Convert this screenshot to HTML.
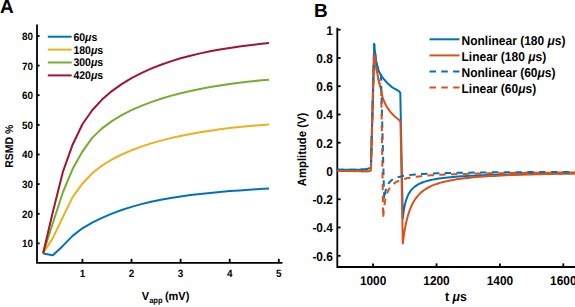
<!DOCTYPE html>
<html><head><meta charset="utf-8"><style>
html,body{margin:0;padding:0;background:#fff;width:575px;height:307px;overflow:hidden;}
svg{display:block;text-rendering:geometricPrecision;}
</style></head><body>
<svg width="575" height="307" viewBox="0 0 575 307">
<rect width="575" height="307" fill="#fff"/>
<text x="0" y="13.3" font-size="19" font-family="Liberation Sans, sans-serif" font-weight="bold" fill="#000">A</text>
<text x="314.0" y="17.2" font-size="19" font-family="Liberation Sans, sans-serif" font-weight="bold" fill="#000">B</text>
<g stroke="#000" stroke-width="1.8" fill="none" stroke-linecap="square">
<path d="M37,25.5 V262.8 H281.5"/>
<path stroke-linecap="butt" d="M37,243.4 H39.6"/>
<path stroke-linecap="butt" d="M37,213.8 H39.6"/>
<path stroke-linecap="butt" d="M37,184.1 H39.6"/>
<path stroke-linecap="butt" d="M37,154.5 H39.6"/>
<path stroke-linecap="butt" d="M37,124.9 H39.6"/>
<path stroke-linecap="butt" d="M37,95.2 H39.6"/>
<path stroke-linecap="butt" d="M37,65.6 H39.6"/>
<path stroke-linecap="butt" d="M37,36.0 H39.6"/>
<path stroke-linecap="butt" d="M82.4,262.8 V258.8"/>
<path stroke-linecap="butt" d="M131.5,262.8 V258.8"/>
<path stroke-linecap="butt" d="M180.6,262.8 V258.8"/>
<path stroke-linecap="butt" d="M229.7,262.8 V258.8"/>
<path stroke-linecap="butt" d="M278.8,262.8 V258.8"/>
</g>
<g font-family="Liberation Sans, sans-serif" font-weight="bold" font-size="9.9" fill="#000">
<text transform="translate(33.1,247.30) scale(1,1.07)" text-anchor="end">10</text>
<text transform="translate(33.1,217.67) scale(1,1.07)" text-anchor="end">20</text>
<text transform="translate(33.1,188.04) scale(1,1.07)" text-anchor="end">30</text>
<text transform="translate(33.1,158.41) scale(1,1.07)" text-anchor="end">40</text>
<text transform="translate(33.1,128.78) scale(1,1.07)" text-anchor="end">50</text>
<text transform="translate(33.1,99.15) scale(1,1.07)" text-anchor="end">60</text>
<text transform="translate(33.1,69.52) scale(1,1.07)" text-anchor="end">70</text>
<text transform="translate(33.1,39.89) scale(1,1.07)" text-anchor="end">80</text>
<text transform="translate(82.40,277.2) scale(1,1.07)" text-anchor="middle">1</text>
<text transform="translate(131.50,277.2) scale(1,1.07)" text-anchor="middle">2</text>
<text transform="translate(180.60,277.2) scale(1,1.07)" text-anchor="middle">3</text>
<text transform="translate(229.70,277.2) scale(1,1.07)" text-anchor="middle">4</text>
<text transform="translate(278.80,277.2) scale(1,1.07)" text-anchor="middle">5</text>
</g>
<text font-family="Liberation Sans, sans-serif" font-weight="bold" font-size="10.5" fill="#000" transform="translate(13.2,146.2) rotate(-90) scale(1,1.07)" text-anchor="middle">RSMD %</text>
<text font-family="Liberation Sans, sans-serif" font-weight="bold" font-size="11" fill="#000" transform="translate(141.8,299.6) scale(1,1.07)">V<tspan font-size="7.6" dy="3.6">app</tspan><tspan dy="-3.6" dx="-0.8"> (mV)</tspan></text>
<g fill="none" stroke-width="2" stroke-linejoin="round">
<polyline stroke="#0072BD" points="43.1,253.4 52.9,255.3 62.8,245.9 72.6,235.9 82.4,228.3 92.2,222.7 102.0,217.8 111.9,213.6 121.7,210.0 131.5,206.9 141.3,204.1 151.1,201.8 161.0,199.8 170.8,198.0 180.6,196.5 190.4,195.1 200.2,193.9 210.1,192.9 219.9,191.9 229.7,191.1 239.5,190.4 249.3,189.7 259.2,189.1 269.0,188.6"/>
<polyline stroke="#EDB120" points="43.1,253.4 52.9,237.9 62.8,217.3 72.6,197.1 82.4,183.7 92.2,173.2 102.0,165.6 111.9,159.5 121.7,154.5 131.5,150.3 141.3,146.6 151.1,143.4 161.0,140.6 170.8,138.1 180.6,135.9 190.4,133.9 200.2,132.2 210.1,130.7 219.9,129.3 229.7,128.1 239.5,127.0 249.3,126.1 259.2,125.3 269.0,124.5"/>
<polyline stroke="#77AC30" points="43.1,253.4 52.9,223.0 62.8,192.5 72.6,169.1 82.4,151.6 92.2,137.9 102.0,128.4 111.9,121.1 121.7,115.2 131.5,110.2 141.3,105.9 151.1,102.1 161.0,98.8 170.8,95.9 180.6,93.3 190.4,91.0 200.2,88.9 210.1,87.1 219.9,85.5 229.7,84.0 239.5,82.7 249.3,81.6 259.2,80.6 269.0,79.7"/>
<polyline stroke="#A2142F" points="43.1,253.4 52.9,211.8 62.8,172.2 72.6,144.7 82.4,124.3 92.2,110.2 102.0,99.6 111.9,91.1 121.7,84.1 131.5,78.2 141.3,73.1 151.1,68.6 161.0,64.8 170.8,61.4 180.6,58.3 190.4,55.7 200.2,53.4 210.1,51.3 219.9,49.5 229.7,47.9 239.5,46.5 249.3,45.2 259.2,44.1 269.0,43.1"/>
</g>
<g fill="none" stroke-width="2">
<path stroke="#0072BD" d="M47.8,36.7 H71.7"/>
<path stroke="#EDB120" d="M47.8,49.6 H71.7"/>
<path stroke="#77AC30" d="M47.8,62.5 H71.7"/>
<path stroke="#A2142F" d="M47.8,75.4 H71.7"/>
</g>
<g font-family="Liberation Sans, sans-serif" font-weight="bold" font-size="10.5" fill="#000">
<text transform="translate(73.4,40.60) scale(1,1.07)">60<tspan font-style="italic">μ</tspan>s</text>
<text transform="translate(73.4,53.50) scale(1,1.07)">180<tspan font-style="italic">μ</tspan>s</text>
<text transform="translate(73.4,66.40) scale(1,1.07)">300<tspan font-style="italic">μ</tspan>s</text>
<text transform="translate(73.4,79.30) scale(1,1.07)">420<tspan font-style="italic">μ</tspan>s</text>
</g>
<g stroke="#000" stroke-width="1.8" fill="none" stroke-linecap="square">
<path d="M337.3,28.6 V267.0 H576"/>
<path stroke-linecap="butt" d="M337.3,29.7 H340.6"/>
<path stroke-linecap="butt" d="M337.3,58.0 H340.6"/>
<path stroke-linecap="butt" d="M337.3,86.2 H340.6"/>
<path stroke-linecap="butt" d="M337.3,114.5 H340.6"/>
<path stroke-linecap="butt" d="M337.3,142.7 H340.6"/>
<path stroke-linecap="butt" d="M337.3,171.0 H340.6"/>
<path stroke-linecap="butt" d="M337.3,199.3 H340.6"/>
<path stroke-linecap="butt" d="M337.3,227.5 H340.6"/>
<path stroke-linecap="butt" d="M337.3,255.8 H340.6"/>
<path stroke-linecap="butt" d="M373.1,267.0 V263.4"/>
<path stroke-linecap="butt" d="M436.5,267.0 V263.4"/>
<path stroke-linecap="butt" d="M499.9,267.0 V263.4"/>
<path stroke-linecap="butt" d="M563.3,267.0 V263.4"/>
</g>
<g font-family="Liberation Sans, sans-serif" font-weight="bold" font-size="11.9" fill="#000">
<text transform="translate(332.9,34.60) scale(1,1.07)" text-anchor="end">1</text>
<text transform="translate(332.9,62.86) scale(1,1.07)" text-anchor="end">0.8</text>
<text transform="translate(332.9,91.12) scale(1,1.07)" text-anchor="end">0.6</text>
<text transform="translate(332.9,119.38) scale(1,1.07)" text-anchor="end">0.4</text>
<text transform="translate(332.9,147.64) scale(1,1.07)" text-anchor="end">0.2</text>
<text transform="translate(332.9,175.90) scale(1,1.07)" text-anchor="end">0</text>
<text transform="translate(332.9,204.16) scale(1,1.07)" text-anchor="end">-0.2</text>
<text transform="translate(332.9,232.42) scale(1,1.07)" text-anchor="end">-0.4</text>
<text transform="translate(332.9,260.68) scale(1,1.07)" text-anchor="end">-0.6</text>
<text transform="translate(373.10,284.8) scale(1,1.07)" text-anchor="middle">1000</text>
<text transform="translate(436.50,284.8) scale(1,1.07)" text-anchor="middle">1200</text>
<text transform="translate(499.90,284.8) scale(1,1.07)" text-anchor="middle">1400</text>
<text transform="translate(563.30,284.8) scale(1,1.07)" text-anchor="middle">1600</text>
</g>
<text font-family="Liberation Sans, sans-serif" font-weight="bold" font-size="11.3" fill="#000" transform="translate(306.3,149.5) rotate(-90) scale(1,1.07)" text-anchor="middle">Amplitude (V)</text>
<text font-family="Liberation Sans, sans-serif" font-weight="bold" font-size="12.3" fill="#000" transform="translate(445.0,301) scale(1,1.07)">t <tspan font-style="italic">μ</tspan>s</text>
<g fill="none" stroke-width="2" stroke-linejoin="round">
<path stroke="#0072BD" d="M337.50,169.80 L360.00,169.60 L366.00,169.20 L369.50,168.20 L370.90,168.00 L374.20,44.00 L375.00,52.00 L375.90,59.50 L377.00,65.00 L378.80,71.20 L381.00,75.30 L383.70,79.00 L387.50,83.20 L391.50,86.80 L395.00,89.00 L398.30,90.70 L400.30,92.70 L402.80,218.50 L402.80,218.47 L402.82,218.33 L402.85,218.03 L402.90,217.55 L402.98,216.87 L403.08,215.98 L403.21,214.90 L403.37,213.63 L403.56,212.22 L403.79,210.67 L404.06,209.03 L404.37,207.34 L404.71,205.61 L405.10,203.87 L405.54,202.16 L406.02,200.49 L406.54,198.87 L407.12,197.32 L407.74,195.83 L408.42,194.43 L409.15,193.10 L409.93,191.85 L410.77,190.68 L411.66,189.58 L412.61,188.56 L413.62,187.60 L414.70,186.70 L415.83,185.87 L417.02,185.09 L418.28,184.36 L419.60,183.69 L420.99,183.05 L422.45,182.46 L423.97,181.91 L425.56,181.39 L427.22,180.91 L428.95,180.46 L430.75,180.03 L432.63,179.63 L434.58,179.26 L436.60,178.91 L438.70,178.58 L440.88,178.27 L443.13,177.97 L445.46,177.70 L447.87,177.44 L450.36,177.19 L452.93,176.96 L455.58,176.74 L458.31,176.53 L461.13,176.33 L464.03,176.14 L467.02,175.96 L470.09,175.79 L473.25,175.63 L476.50,175.48 L479.83,175.33 L483.25,175.19 L486.77,175.06 L490.37,174.93 L494.07,174.81 L497.85,174.70 L501.73,174.59 L505.70,174.48 L509.77,174.38 L513.93,174.28 L518.19,174.19 L522.54,174.10 L526.99,174.02 L531.54,173.94 L536.19,173.86 L540.94,173.78 L545.78,173.71 L550.73,173.64 L555.78,173.57 L560.93,173.51 L566.18,173.45 L571.54,173.39 L577.00,173.33"/>
<path stroke="#D95319" d="M337.50,171.00 L369.00,171.20 L370.90,170.50 L374.20,52.70 L375.20,60.00 L376.50,69.00 L378.50,79.50 L380.80,88.80 L382.70,98.00 L386.00,105.50 L389.90,111.40 L394.00,115.80 L399.40,120.20 L400.50,122.00 L402.80,243.50 L402.80,243.47 L402.82,243.35 L402.85,243.09 L402.90,242.66 L402.98,242.04 L403.08,241.22 L403.21,240.19 L403.37,238.95 L403.56,237.51 L403.79,235.89 L404.06,234.09 L404.37,232.14 L404.71,230.06 L405.10,227.87 L405.54,225.61 L406.02,223.30 L406.54,220.97 L407.12,218.63 L407.74,216.31 L408.42,214.03 L409.15,211.80 L409.93,209.63 L410.77,207.53 L411.66,205.52 L412.61,203.59 L413.62,201.75 L414.70,200.00 L415.83,198.35 L417.02,196.78 L418.28,195.30 L419.60,193.91 L420.99,192.60 L422.45,191.37 L423.97,190.22 L425.56,189.13 L427.22,188.12 L428.95,187.17 L430.75,186.28 L432.63,185.44 L434.58,184.66 L436.60,183.93 L438.70,183.24 L440.88,182.60 L443.13,182.00 L445.46,181.43 L447.87,180.90 L450.36,180.41 L452.93,179.94 L455.58,179.50 L458.31,179.09 L461.13,178.70 L464.03,178.34 L467.02,178.00 L470.09,177.68 L473.25,177.37 L476.50,177.09 L479.83,176.82 L483.25,176.56 L486.77,176.32 L490.37,176.09 L494.07,175.88 L497.85,175.67 L501.73,175.48 L505.70,175.30 L509.77,175.12 L513.93,174.96 L518.19,174.80 L522.54,174.66 L526.99,174.51 L531.54,174.38 L536.19,174.25 L540.94,174.13 L545.78,174.02 L550.73,173.91 L555.78,173.80 L560.93,173.70 L566.18,173.61 L571.54,173.52 L577.00,173.43"/>
<path stroke="#0072BD" stroke-dasharray="6.5 5.3" d="M337.50,169.80 L360.00,169.60 L366.00,169.20 L369.50,168.20 L370.90,168.00 L374.20,44.00 L375.00,52.00 L375.90,59.50 L377.00,65.00 L378.80,71.20 L381.00,75.30 L384.20,199.50 L384.20,199.47 L384.22,199.31 L384.25,198.99 L384.31,198.48 L384.39,197.77 L384.51,196.87 L384.65,195.82 L384.83,194.64 L385.04,193.37 L385.30,192.06 L385.59,190.73 L385.93,189.43 L386.32,188.17 L386.75,186.96 L387.23,185.83 L387.76,184.77 L388.34,183.78 L388.98,182.87 L389.67,182.03 L390.42,181.27 L391.22,180.56 L392.09,179.92 L393.02,179.33 L394.01,178.79 L395.06,178.29 L396.18,177.84 L397.37,177.42 L398.62,177.04 L399.94,176.69 L401.33,176.36 L402.80,176.07 L404.33,175.79 L405.94,175.54 L407.63,175.30 L409.39,175.08 L411.23,174.88 L413.14,174.69 L415.14,174.51 L417.21,174.35 L419.37,174.20 L421.61,174.05 L423.93,173.92 L426.34,173.79 L428.83,173.68 L431.41,173.56 L434.08,173.46 L436.84,173.36 L439.68,173.27 L442.62,173.18 L445.64,173.10 L448.76,173.02 L451.97,172.95 L455.28,172.88 L458.68,172.81 L462.17,172.75 L465.77,172.69 L469.46,172.64 L473.24,172.58 L477.13,172.53 L481.12,172.48 L485.21,172.43 L489.40,172.39 L493.69,172.35 L498.09,172.31 L502.59,172.27 L507.20,172.23 L511.91,172.20 L516.73,172.16 L521.66,172.13 L526.69,172.10 L531.83,172.07 L537.09,172.04 L542.45,172.01 L547.93,171.99 L553.51,171.96 L559.21,171.94 L565.03,171.91 L570.96,171.89 L577.00,171.87"/>
<path stroke="#D95319" stroke-dasharray="6.5 5.3" d="M337.50,171.00 L369.00,171.20 L370.90,170.50 L374.20,52.70 L375.20,60.00 L376.50,69.00 L378.50,79.50 L380.80,88.80 L381.20,90.50 L383.20,218.00 L383.20,217.95 L383.22,217.71 L383.25,217.20 L383.31,216.39 L383.40,215.27 L383.51,213.85 L383.65,212.16 L383.83,210.27 L384.05,208.24 L384.30,206.12 L384.60,203.98 L384.94,201.85 L385.33,199.79 L385.76,197.82 L386.24,195.95 L386.78,194.19 L387.36,192.56 L388.00,191.05 L388.70,189.65 L389.45,188.37 L390.26,187.19 L391.13,186.11 L392.06,185.11 L393.06,184.21 L394.12,183.37 L395.24,182.61 L396.43,181.90 L397.69,181.26 L399.02,180.66 L400.42,180.12 L401.89,179.61 L403.44,179.14 L405.06,178.71 L406.75,178.31 L408.52,177.94 L410.37,177.60 L412.29,177.27 L414.30,176.98 L416.39,176.70 L418.55,176.44 L420.81,176.19 L423.14,175.97 L425.56,175.75 L428.07,175.55 L430.66,175.36 L433.34,175.19 L436.11,175.02 L438.97,174.86 L441.92,174.71 L444.96,174.57 L448.10,174.44 L451.32,174.32 L454.65,174.20 L458.06,174.09 L461.58,173.98 L465.19,173.88 L468.90,173.78 L472.71,173.69 L476.61,173.60 L480.62,173.52 L484.73,173.44 L488.95,173.37 L493.26,173.29 L497.68,173.22 L502.21,173.16 L506.84,173.10 L511.57,173.03 L516.42,172.98 L521.37,172.92 L526.43,172.87 L531.60,172.82 L536.88,172.77 L542.27,172.72 L547.78,172.68 L553.39,172.63 L559.12,172.59 L564.97,172.55 L570.93,172.51 L577.00,172.48"/>
</g>
<g fill="none" stroke-width="2">
<path stroke="#0072BD" d="M429.5,39.3 H459.5"/>
<path stroke="#D95319" d="M429.5,55.4 H459.5"/>
<path stroke="#0072BD" stroke-dasharray="6.5 5.3" d="M429.5,71.5 H459.5"/>
<path stroke="#D95319" stroke-dasharray="6.5 5.3" d="M429.5,87.6 H459.5"/>
</g>
<g font-family="Liberation Sans, sans-serif" font-weight="bold" font-size="12" fill="#000">
<text transform="translate(461.5,45.10) scale(1,1.07)">Nonlinear (180 <tspan font-style="italic">μ</tspan>s)</text>
<text transform="translate(461.5,61.10) scale(1,1.07)">Linear (180 <tspan font-style="italic">μ</tspan>s)</text>
<text transform="translate(461.5,77.10) scale(1,1.07)">Nonlinear (60<tspan font-style="italic">μ</tspan>s)</text>
<text transform="translate(461.5,93.10) scale(1,1.07)">Linear (60<tspan font-style="italic">μ</tspan>s)</text>
</g>
</svg>
</body></html>
